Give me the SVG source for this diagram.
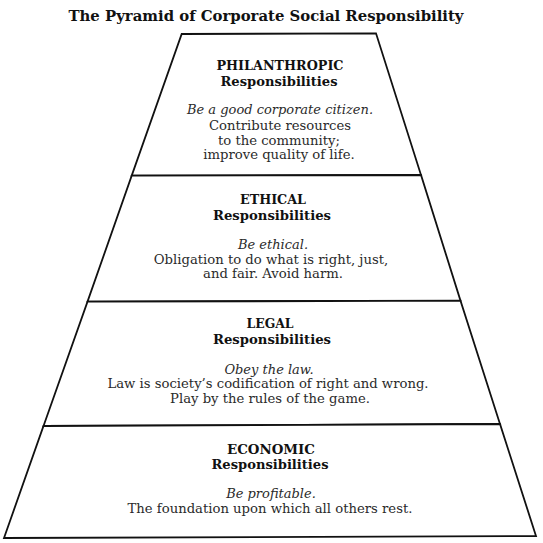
<svg xmlns="http://www.w3.org/2000/svg" width="543" height="543" viewBox="0 0 543 543">
<style>
  .tier { fill: #ffffff; stroke: #111111; stroke-width: 1.8; stroke-linejoin: miter; }
  text { font-family: "DejaVu Serif", "Liberation Serif", serif; fill: #1a1a1a; text-anchor: middle; }
  .title { font-size: 14px; font-weight: bold; fill: #111111; }
  .cap { font-size: 12.5px; font-weight: bold; fill: #111111; }
  .head { font-size: 13px; font-weight: bold; fill: #111111; }
  .em { font-size: 13px; font-style: italic; fill: #2a2a2a; }
  .body { font-size: 13.2px; fill: #2a2a2a; }
</style>
<rect x="0" y="0" width="543" height="543" fill="#ffffff"/>
<text id="title" class="title" x="266" y="21" textLength="395" lengthAdjust="spacingAndGlyphs">The Pyramid of Corporate Social Responsibility</text>

<g id="philanthropic">
  <polygon class="tier" points="181.7,34 376,33.3 421,175 131.7,175.7"/>
  <text class="cap" x="280" y="70" textLength="127" lengthAdjust="spacingAndGlyphs">PHILANTHROPIC</text>
  <text class="head" x="279" y="85.5" textLength="117" lengthAdjust="spacingAndGlyphs">Responsibilities</text>
  <text class="em" x="280" y="114">Be a good corporate citizen.</text>
  <text class="body" x="280" y="130">Contribute resources</text>
  <text class="body" x="279" y="144.5">to the community;</text>
  <text class="body" x="279" y="159">improve quality of life.</text>
</g>

<g id="ethical">
  <polygon class="tier" points="131.7,175.7 421,175 460.5,300.7 87.5,301.7"/>
  <text class="cap" x="273" y="204" textLength="66" lengthAdjust="spacingAndGlyphs">ETHICAL</text>
  <text class="head" x="272" y="219.5" textLength="118" lengthAdjust="spacingAndGlyphs">Responsibilities</text>
  <text class="em" x="273" y="249">Be ethical.</text>
  <text class="body" x="271" y="263.5">Obligation to do what is right, just,</text>
  <text class="body" x="273" y="278">and fair. Avoid harm.</text>
</g>

<g id="legal">
  <polygon class="tier" points="87.5,301.7 460.5,300.7 500,424 43.5,426"/>
  <text class="cap" x="270" y="328" textLength="47" lengthAdjust="spacingAndGlyphs">LEGAL</text>
  <text class="head" x="272" y="343.5" textLength="118" lengthAdjust="spacingAndGlyphs">Responsibilities</text>
  <text class="em" x="269" y="374">Obey the law.</text>
  <text class="body" x="268" y="388">Law is society’s codification of right and wrong.</text>
  <text class="body" x="270" y="402.5">Play by the rules of the game.</text>
</g>

<g id="economic">
  <polygon class="tier" points="43.5,426 500,424 536,536 4,538"/>
  <text class="cap" x="271" y="454" textLength="88" lengthAdjust="spacingAndGlyphs">ECONOMIC</text>
  <text class="head" x="270" y="468.5" textLength="117" lengthAdjust="spacingAndGlyphs">Responsibilities</text>
  <text class="em" x="271" y="498">Be profitable.</text>
  <text class="body" x="270" y="513">The foundation upon which all others rest.</text>
</g>
</svg>
